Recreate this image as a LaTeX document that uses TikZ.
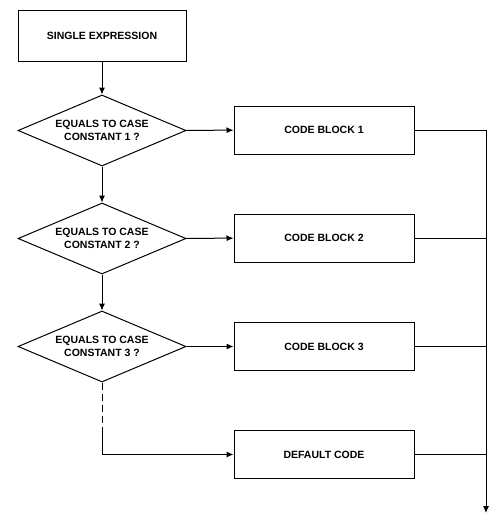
\documentclass[tikz,border=0pt]{standalone}
\usepackage{fontspec}
\setmainfont{Liberation Sans}
\usetikzlibrary{shapes.geometric,arrows.meta}
\begin{document}
\begin{tikzpicture}[x=1pt,y=-1pt,
  line width=1pt,
  >={Latex[length=7pt,width=6pt]},
  box/.style={draw,rectangle,minimum width=168pt,minimum height=51pt,inner sep=0pt,font=\fontsize{10.5}{12.5}\selectfont\bfseries,align=center},
  cbox/.style={draw,rectangle,minimum width=180pt,minimum height=48pt,inner sep=0pt,font=\fontsize{10.5}{12.5}\selectfont\bfseries,align=center},
  dec/.style={draw,diamond,aspect=2.366,minimum width=168pt,minimum height=71pt,inner sep=0pt,font=\fontsize{10.5}{12.5}\selectfont\bfseries,align=center},
  flow/.style={->}]
\useasboundingbox (0,0) rectangle (501,525);
\node[box] (start) at (102,35.5) {SINGLE EXPRESSION};
\node[dec] (d1) at (102,130.5) {EQUALS TO CASE\\CONSTANT 1 ?};
\node[dec] (d2) at (102,238.5) {EQUALS TO CASE\\CONSTANT 2 ?};
\node[dec] (d3) at (102,346.5) {EQUALS TO CASE\\CONSTANT 3 ?};
\node[cbox] (c1) at (324,130) {CODE BLOCK 1};
\node[cbox] (c2) at (324,238) {CODE BLOCK 2};
\node[cbox] (c3) at (324,346.5) {CODE BLOCK 3};
\node[cbox] (c4) at (324,454.5) {DEFAULT CODE};
\coordinate (rtop) at (486,130);
\coordinate (rend) at (486,513);
\coordinate (dcorner) at (102,454.5);
\coordinate (dmid) at (102,430);
\draw[flow] (start) -- (d1);
\draw[flow] (d1) -- (d2);
\draw[flow] (d2) -- (d3);
\draw[flow] (d1) -- (c1);
\draw[flow] (d2) -- (c2);
\draw[flow] (d3) -- (c3);
\draw[dashed,dash pattern=on 7pt off 4pt] (d3.south) -- (dmid);
\draw[flow] (dmid) -- (dcorner) -- (c4);
\draw (c1.east) -- (rtop);
\draw (c2.east) -- (rtop |- c2.east);
\draw (c3.east) -- (rtop |- c3.east);
\draw (c4.east) -- (rtop |- c4.east);
\draw[flow] (rtop) -- (rend);
\end{tikzpicture}
\end{document}
